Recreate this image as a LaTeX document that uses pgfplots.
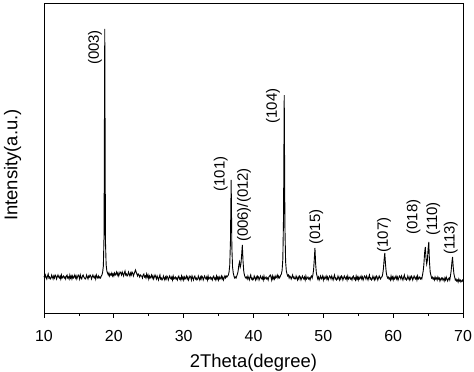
\documentclass[border=0pt]{standalone}
\usepackage{fontspec}
\setmainfont{Liberation Sans}
\usepackage{pgfplots}
\usepackage{pgfplotstable}
\pgfplotsset{compat=1.18}
\pgfplotstableread[row sep=\\]{
y\\
37\\ 35\\ 38\\ 36\\ 34\\ 37\\ 39\\ 35\\ 36\\ 34\\
35\\ 38\\ 36\\ 34\\ 37\\ 35\\ 38\\ 37\\ 34\\ 36\\
38\\ 36\\ 35\\ 37\\ 34\\ 38\\ 35\\ 36\\ 37\\ 35\\
36\\ 34\\ 37\\ 38\\ 35\\ 36\\ 34\\ 38\\ 35\\ 37\\
34\\ 37\\ 35\\ 36\\ 38\\ 35\\ 37\\ 34\\ 36\\ 38\\
37\\ 34\\ 38\\ 35\\ 34\\ 37\\ 38\\ 36\\ 35\\ 34\\
35\\ 38\\ 36\\ 34\\ 37\\ 36\\ 38\\ 37\\ 34\\ 36\\
38\\ 36\\ 35\\ 37\\ 34\\ 38\\ 36\\ 35\\ 37\\ 35\\
36\\ 35\\ 37\\ 38\\ 41\\ 47\\ 78\\ 284\\ 72\\ 48\\
42\\ 40\\ 38\\ 40\\ 37\\ 39\\ 38\\ 40\\ 37\\ 39\\
37\\ 40\\ 38\\ 39\\ 41\\ 38\\ 40\\ 37\\ 39\\ 41\\
40\\ 38\\ 41\\ 39\\ 37\\ 40\\ 42\\ 38\\ 39\\ 37\\
38\\ 41\\ 39\\ 37\\ 40\\ 38\\ 41\\ 40\\ 37\\ 39\\
41\\ 43\\ 41\\ 39\\ 37\\ 39\\ 38\\ 36\\ 38\\ 37\\
37\\ 35\\ 38\\ 39\\ 36\\ 37\\ 35\\ 39\\ 36\\ 38\\
34\\ 37\\ 35\\ 36\\ 38\\ 35\\ 37\\ 34\\ 36\\ 38\\
36\\ 34\\ 37\\ 35\\ 33\\ 36\\ 38\\ 34\\ 35\\ 33\\
34\\ 37\\ 35\\ 33\\ 36\\ 34\\ 37\\ 36\\ 33\\ 35\\
37\\ 35\\ 34\\ 36\\ 33\\ 37\\ 34\\ 35\\ 36\\ 34\\
35\\ 33\\ 36\\ 37\\ 34\\ 35\\ 33\\ 37\\ 34\\ 36\\
33\\ 36\\ 34\\ 35\\ 37\\ 34\\ 36\\ 33\\ 35\\ 37\\
36\\ 33\\ 37\\ 35\\ 33\\ 36\\ 37\\ 34\\ 35\\ 33\\
34\\ 37\\ 35\\ 33\\ 36\\ 34\\ 37\\ 36\\ 33\\ 35\\
37\\ 35\\ 34\\ 36\\ 33\\ 37\\ 34\\ 35\\ 36\\ 34\\
35\\ 33\\ 36\\ 37\\ 34\\ 35\\ 33\\ 37\\ 34\\ 36\\
33\\ 36\\ 34\\ 35\\ 37\\ 34\\ 36\\ 33\\ 35\\ 37\\
35\\ 37\\ 36\\ 37\\ 38\\ 41\\ 48\\ 72\\ 133\\ 66\\
46\\ 40\\ 37\\ 35\\ 36\\ 35\\ 37\\ 39\\ 42\\ 48\\
51\\ 46\\ 49\\ 58\\ 68\\ 52\\ 42\\ 38\\ 36\\ 35\\
36\\ 34\\ 37\\ 35\\ 33\\ 36\\ 38\\ 34\\ 35\\ 33\\
34\\ 37\\ 35\\ 33\\ 36\\ 34\\ 37\\ 36\\ 33\\ 35\\
37\\ 35\\ 34\\ 36\\ 33\\ 37\\ 34\\ 35\\ 36\\ 34\\
35\\ 33\\ 36\\ 37\\ 38\\ 36\\ 33\\ 37\\ 34\\ 36\\
34\\ 37\\ 35\\ 36\\ 38\\ 35\\ 37\\ 35\\ 36\\ 38\\
39\\ 43\\ 54\\ 96\\ 218\\ 86\\ 51\\ 42\\ 39\\ 37\\
38\\ 35\\ 37\\ 36\\ 34\\ 36\\ 38\\ 35\\ 36\\ 34\\
34\\ 37\\ 35\\ 33\\ 36\\ 34\\ 37\\ 36\\ 33\\ 35\\
37\\ 35\\ 34\\ 36\\ 33\\ 37\\ 34\\ 35\\ 36\\ 34\\
35\\ 33\\ 36\\ 37\\ 35\\ 38\\ 43\\ 53\\ 65\\ 49\\
40\\ 37\\ 34\\ 36\\ 33\\ 35\\ 37\\ 34\\ 35\\ 37\\
33\\ 36\\ 34\\ 35\\ 37\\ 34\\ 36\\ 33\\ 35\\ 37\\
36\\ 34\\ 37\\ 35\\ 33\\ 36\\ 38\\ 34\\ 35\\ 33\\
34\\ 37\\ 35\\ 33\\ 36\\ 34\\ 37\\ 36\\ 33\\ 35\\
37\\ 35\\ 34\\ 36\\ 33\\ 37\\ 34\\ 35\\ 36\\ 34\\
35\\ 33\\ 36\\ 37\\ 34\\ 35\\ 33\\ 37\\ 34\\ 36\\
33\\ 36\\ 34\\ 35\\ 37\\ 34\\ 36\\ 33\\ 35\\ 37\\
36\\ 34\\ 37\\ 35\\ 33\\ 36\\ 38\\ 34\\ 35\\ 33\\
34\\ 37\\ 35\\ 33\\ 36\\ 34\\ 37\\ 36\\ 33\\ 35\\
37\\ 35\\ 34\\ 36\\ 36\\ 39\\ 44\\ 53\\ 60\\ 49\\
41\\ 37\\ 35\\ 36\\ 34\\ 35\\ 33\\ 37\\ 34\\ 36\\
33\\ 36\\ 34\\ 35\\ 37\\ 34\\ 36\\ 33\\ 35\\ 37\\
36\\ 34\\ 37\\ 35\\ 33\\ 36\\ 38\\ 34\\ 35\\ 33\\
34\\ 37\\ 35\\ 33\\ 36\\ 34\\ 37\\ 36\\ 33\\ 35\\
37\\ 35\\ 34\\ 36\\ 33\\ 37\\ 34\\ 35\\ 36\\ 34\\
35\\ 34\\ 38\\ 42\\ 49\\ 60\\ 66\\ 55\\ 49\\ 53\\
64\\ 71\\ 51\\ 41\\ 38\\ 35\\ 36\\ 34\\ 35\\ 33\\
36\\ 34\\ 35\\ 33\\ 36\\ 34\\ 35\\ 32\\ 34\\ 35\\
33\\ 35\\ 34\\ 32\\ 35\\ 33\\ 36\\ 34\\ 32\\ 34\\
35\\ 33\\ 37\\ 42\\ 50\\ 56\\ 46\\ 39\\ 36\\ 33\\
34\\ 32\\ 33\\ 31\\ 34\\ 32\\ 33\\ 31\\ 32\\ 33\\
31\\
}\xrd
\begin{document}
\begin{tikzpicture}
\begin{axis}[
  name=ax,
  scale only axis,
  width=419bp, height=310bp,
  xmin=10, xmax=70, ymin=0, ymax=310,
  xtick={10,20,...,70},
  minor x tick num=1,
  ytick=\empty,
  xtick pos=bottom,
  tick align=outside,
  major tick length=4.5bp,
  minor tick length=3bp,
  axis line style={line width=0.8bp},
  every tick/.style={black, line width=0.8bp},
  /pgf/number format/assume math mode=true,
  tick label style={font=\fontsize{16}{17}\selectfont},
  xticklabel style={yshift=-9bp},
  xlabel={2Theta(degree)},
  ylabel={Intensity(a.u.)},
  label style={font=\fontsize{18.5}{20}\selectfont},
  xlabel style={at={(axis description cs:0.5,0)}, anchor=center, yshift=-50bp},
  ylabel style={at={(axis description cs:0,0.477)}, anchor=center, yshift=31.5bp},
  clip=false,
]
\addplot[black, line width=0.9bp] table[x expr=10+\coordindex*0.1, y=y] {\xrd};
\begin{scope}[every node/.style={rotate=90, font=\fontsize{15}{16}\selectfont, inner sep=0pt}]
\node at (axis cs:17.3,265.5) {(003)};
\node at (axis cs:35.3,139) {(101)};
\node at (axis cs:38.65,108) {(006)/(012)};
\node at (axis cs:42.8,207) {(104)};
\node at (axis cs:49.0,86) {(015)};
\node at (axis cs:58.7,78) {(107)};
\node at (axis cs:62.9,96) {(018)};
\node at (axis cs:65.75,94) {(110)};
\node at (axis cs:68.25,75) {(113)};
\end{scope}
\end{axis}
\pgfresetboundingbox
\path ([shift={(-44bp,-58bp)}]ax.south west) rectangle ([shift={(11bp,3bp)}]ax.north east);
\end{tikzpicture}
\end{document}
